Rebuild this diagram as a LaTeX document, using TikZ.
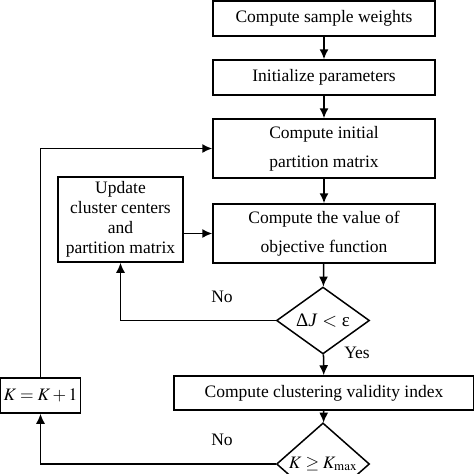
\documentclass[tikz,border=0pt]{standalone}
\usepackage{mathptmx}
\usepackage{fontspec}
\setmainfont{Liberation Serif}
\usetikzlibrary{shapes.geometric, arrows.meta, positioning}

\tikzset{
  stepbox/.style={draw, line width=1.5pt, minimum width=222pt, minimum height=35pt, align=center, inner sep=2pt},
  decision/.style={diamond, draw, line width=1.5pt, minimum width=93pt, minimum height=65pt, inner sep=0pt},
  flow/.style={line width=1.5pt, -{Latex[length=10pt,width=9pt]}}
}

\begin{document}
\begin{tikzpicture}[x=1pt, y=-1pt, font=\fontsize{17.5}{29}\selectfont]
\useasboundingbox (0,0) rectangle (474,474);
\clip (0,0) rectangle (474,474);

% Main column
\node[stepbox] (weights) at (324,18.5) {Compute sample weights};
\node[stepbox] (init) at (324,77.5) {Initialize parameters};
\node[stepbox, minimum height=59pt] (partition) at (324,148.5) {Compute initial\\partition matrix};
\node[stepbox, minimum height=59pt] (objective) at (324,233.5) {Compute the value of\\objective function};
\node[decision, font=\fontsize{19}{22}\selectfont] (converge) at (323,320.5) {Δ\textit{J} $<$ ε};
\node[stepbox, minimum width=300pt, minimum height=34pt] (validity) at (324,393) {Compute clustering validity index};
\node[decision, minimum height=64pt] (kmax) at (323,464) {$K \geq K_{\max}$};

% Side boxes
\node[stepbox, minimum width=125pt, minimum height=85pt, font=\fontsize{17.5}{20}\selectfont] (update) at (120.5,219.5) {Update\\cluster centers\\and\\partition matrix};
\node[stepbox, minimum width=80pt, minimum height=35pt, inner sep=0pt] (kinc) at (40.5,395.5) {$K = K + 1$};

% Connectors
\draw[flow] (weights) -- (init);
\draw[flow] (init) -- (partition);
\draw[flow] (partition) -- (objective);
\draw[flow] (objective) -- (converge);
\draw[flow] (converge) -- (validity);
\draw[flow] (validity) -- (kmax);
\draw[flow] (update.east |- objective.west) -- (objective.west);
\draw[flow] (converge.west) -| (update.south);
\draw[flow] (kmax.west) -| (kinc.south);
\draw[flow] (kinc.north) |- (partition.west);

% Labels
\node (no1) at (222,297) {No};
\node (yes) at (357,353) {Yes};
\node (no2) at (222,440) {No};
\end{tikzpicture}
\end{document}
